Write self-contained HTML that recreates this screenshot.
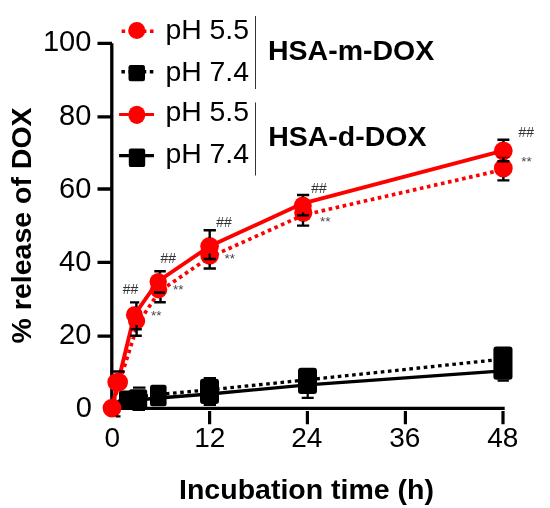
<!DOCTYPE html>
<html><head><meta charset="utf-8"><title>DOX release</title>
<style>
html,body{margin:0;padding:0;background:#fff;}
svg{display:block}
svg{font-family:"Liberation Sans",Arial,Helvetica,sans-serif}
.tl{font-size:28px}
.b{font-weight:bold}
</style></head><body>
<svg width="550" height="508" viewBox="0 0 550 508">
<rect width="550" height="508" fill="#fff"/>
<!-- axis labels -->
<text class="b" font-size="28.5" text-anchor="middle" transform="translate(31,225.4) rotate(-90)">% release of DOX</text>
<text class="b" font-size="28.5" text-anchor="middle" x="306.5" y="498.6">Incubation time (h)</text>
<!-- y tick labels -->
<g font-size="29" text-anchor="end">
<text x="91.3" y="50.6">100</text>
<text x="91.3" y="125">80</text>
<text x="91.3" y="198">60</text>
<text x="91.3" y="271">40</text>
<text x="91.3" y="344.3">20</text>
<text x="92" y="416.6">0</text>
</g>
<!-- x tick labels -->
<g font-size="28" text-anchor="middle">
<text x="112.3" y="446.6">0</text>
<text x="209.8" y="446.6">12</text>
<text x="306.8" y="446.6">24</text>
<text x="404.8" y="446.6">36</text>
<text x="502.8" y="446.6">48</text>
</g>
<!-- black series lines -->
<g fill="none" stroke="#000" stroke-width="3.3">
<polyline points="112,408 120,400 137,397 158.5,394.5 209.6,389.8 307.5,379.8 503,359.1" stroke-dasharray="3.6 3.6"/>
<polyline points="112,408 120,402 137,400 158.5,398 209.6,394 307.5,384.8 503,370.8"/>
</g>
<!-- axes -->
<g stroke="#000" stroke-width="3.3" fill="none">
<line x1="111.8" y1="43.3" x2="111.8" y2="409.8"/>
<line x1="110" y1="408.3" x2="504.7" y2="408.3"/>
<path d="M97.5 43.3H112M97.5 116.8H112M97.5 189H112M97.5 262.3H112M97.5 336.1H112"/>
<path d="M209.6 411.1V424.2M307.4 411.1V424.2M405.4 411.1V424.2M503 411.1V424.2" stroke-width="3.2"/>
</g>
<!-- black markers -->
<g fill="#000">
<rect x="119" y="390.5" width="13" height="18" rx="2"/>
<rect x="128.9" y="389.2" width="18.3" height="19.5" rx="2.5"/>
<rect x="150" y="384.7" width="16.6" height="21.5" rx="2.5"/>
<rect x="200" y="378.8" width="19" height="25.1" rx="3"/>
<rect x="298" y="367.8" width="19" height="26.1" rx="3"/>
<rect x="493.4" y="346.6" width="19.1" height="33.2" rx="3"/>
</g>
<g stroke="#000" stroke-width="2.2" fill="none">
<path d="M133 387.6H145.5M132.5 410H145M203.7 378H216M203.7 404.9H216M301.7 397.8H313.7M307.7 393V397.8M497.6 380.6H508.9"/>
</g>
<!-- red lines -->
<g fill="none" stroke="#ff0000" stroke-width="3.7" stroke-linejoin="round">
<polyline points="112,408.3 119.5,382.2 138,323.3 159.5,291.2 209.6,257.2 303.5,215 503.3,169.6" stroke-dasharray="3.6 3.6"/>
<polyline points="112,408.3 118,382.2 134.4,314.8 157.8,281.5 209.6,246.3 303,203.3 503.3,150.6" stroke-width="3.9"/>
</g>
<!-- red markers -->
<g fill="#ff0000">
<circle cx="112" cy="408.1" r="9.4"/>
<circle cx="116.7" cy="382.2" r="9.3"/><circle cx="118.7" cy="382.2" r="9.3"/>
<circle cx="136.6" cy="321" r="8.6"/><circle cx="134.4" cy="314.8" r="8.5"/>
<circle cx="158.6" cy="289.7" r="8.7"/><circle cx="158.2" cy="281.6" r="8.7"/>
<circle cx="209.6" cy="255.5" r="9.3"/><circle cx="209.6" cy="246.3" r="9.3"/>
<circle cx="303.3" cy="212.8" r="9.1"/><circle cx="302.8" cy="205.5" r="9"/>
<circle cx="503.3" cy="168.2" r="9.4"/><circle cx="503.3" cy="150.8" r="9.4"/>
</g>
<!-- error bars -->
<g stroke="#000" stroke-width="2.4" fill="none">
<path d="M497.4 139.8H509.4M503.4 139.8V142M497.4 161.3H509.4M503.4 157.5V161.3M497.4 180.4H509.4M503.4 177V180.4"/>
<path d="M297 195H309.2M303 195V197M297 215.4H309.2M303 212.5V215.4M297 225.6H309.2M303 221V225.6"/>
<path d="M203.6 230.2H215.9M209.7 230.2V238M203.6 259H215.9M209.7 253.5V259M203.6 268.5H215.9M209.7 264V268.5"/>
<path d="M154.3 271.3H165.8M160 271.3V273.5M154 292.5H165M154.3 302.2H165.8M160.5 298V302.2"/>
<path d="M130 302.4H139.3M136.4 302.4V307M130.7 329.2H141.8M136.6 325V335.7M130 335.7H141.8"/>
<path d="M110.4 371.5H124.6M115.7 416.4H120.5"/>
</g>
<g stroke="#000" stroke-width="1" fill="none" opacity="0.6"><path d="M497.4 157.3H509.4"/></g>
<!-- annotations -->
<g font-size="14" font-style="italic" fill="#333">
<text x="518.3" y="136.6">##</text>
<text x="311" y="193.4">##</text>
<text x="216" y="227.2">##</text>
<text x="160.3" y="263">##</text>
<text x="122.5" y="294">##</text>
</g>
<g font-size="13.5" fill="#444">
<text x="521.3" y="165.5">**</text>
<text x="320" y="226">**</text>
<text x="224.4" y="263.2">**</text>
<text x="173" y="294">**</text>
<text x="151" y="320">**</text>
</g>
<!-- legend -->
<g fill="none" stroke-width="3.5">
<line x1="121.6" y1="31.3" x2="154" y2="31.3" stroke="#ff0000" stroke-dasharray="3.55 3.55"/>
<line x1="121.4" y1="71.8" x2="154" y2="71.8" stroke="#000" stroke-dasharray="3.55 3.55"/>
<line x1="119.1" y1="114.5" x2="154" y2="114.5" stroke="#ff0000" stroke-width="3.2"/>
<line x1="119.1" y1="155.6" x2="154" y2="155.6" stroke="#000" stroke-width="3.2"/>
</g>
<circle cx="136.8" cy="30.4" r="8.5" fill="#ff0000"/>
<rect x="128.5" y="65" width="16.5" height="16.3" rx="2.2" fill="#000"/>
<ellipse cx="136.8" cy="114.8" rx="8.5" ry="9.1" fill="#ff0000"/>
<rect x="128.8" y="148.5" width="16.4" height="18.6" rx="2.2" fill="#000"/>
<g font-size="28.4">
<text x="165.4" y="39.2">pH 5.5</text>
<text x="165.4" y="80.8">pH 7.4</text>
<text x="165.4" y="121.4">pH 5.5</text>
<text x="165.4" y="163.3">pH 7.4</text>
</g>
<g stroke="#333" stroke-width="1">
<line x1="255.5" y1="16" x2="255.5" y2="89"/>
<line x1="255.5" y1="102.5" x2="255.5" y2="175.5"/>
</g>
<text class="b" font-size="28.5" x="268" y="60">HSA-m-DOX</text>
<text class="b" font-size="28.5" x="268.2" y="145.8">HSA-d-DOX</text>
</svg>
</body></html>
